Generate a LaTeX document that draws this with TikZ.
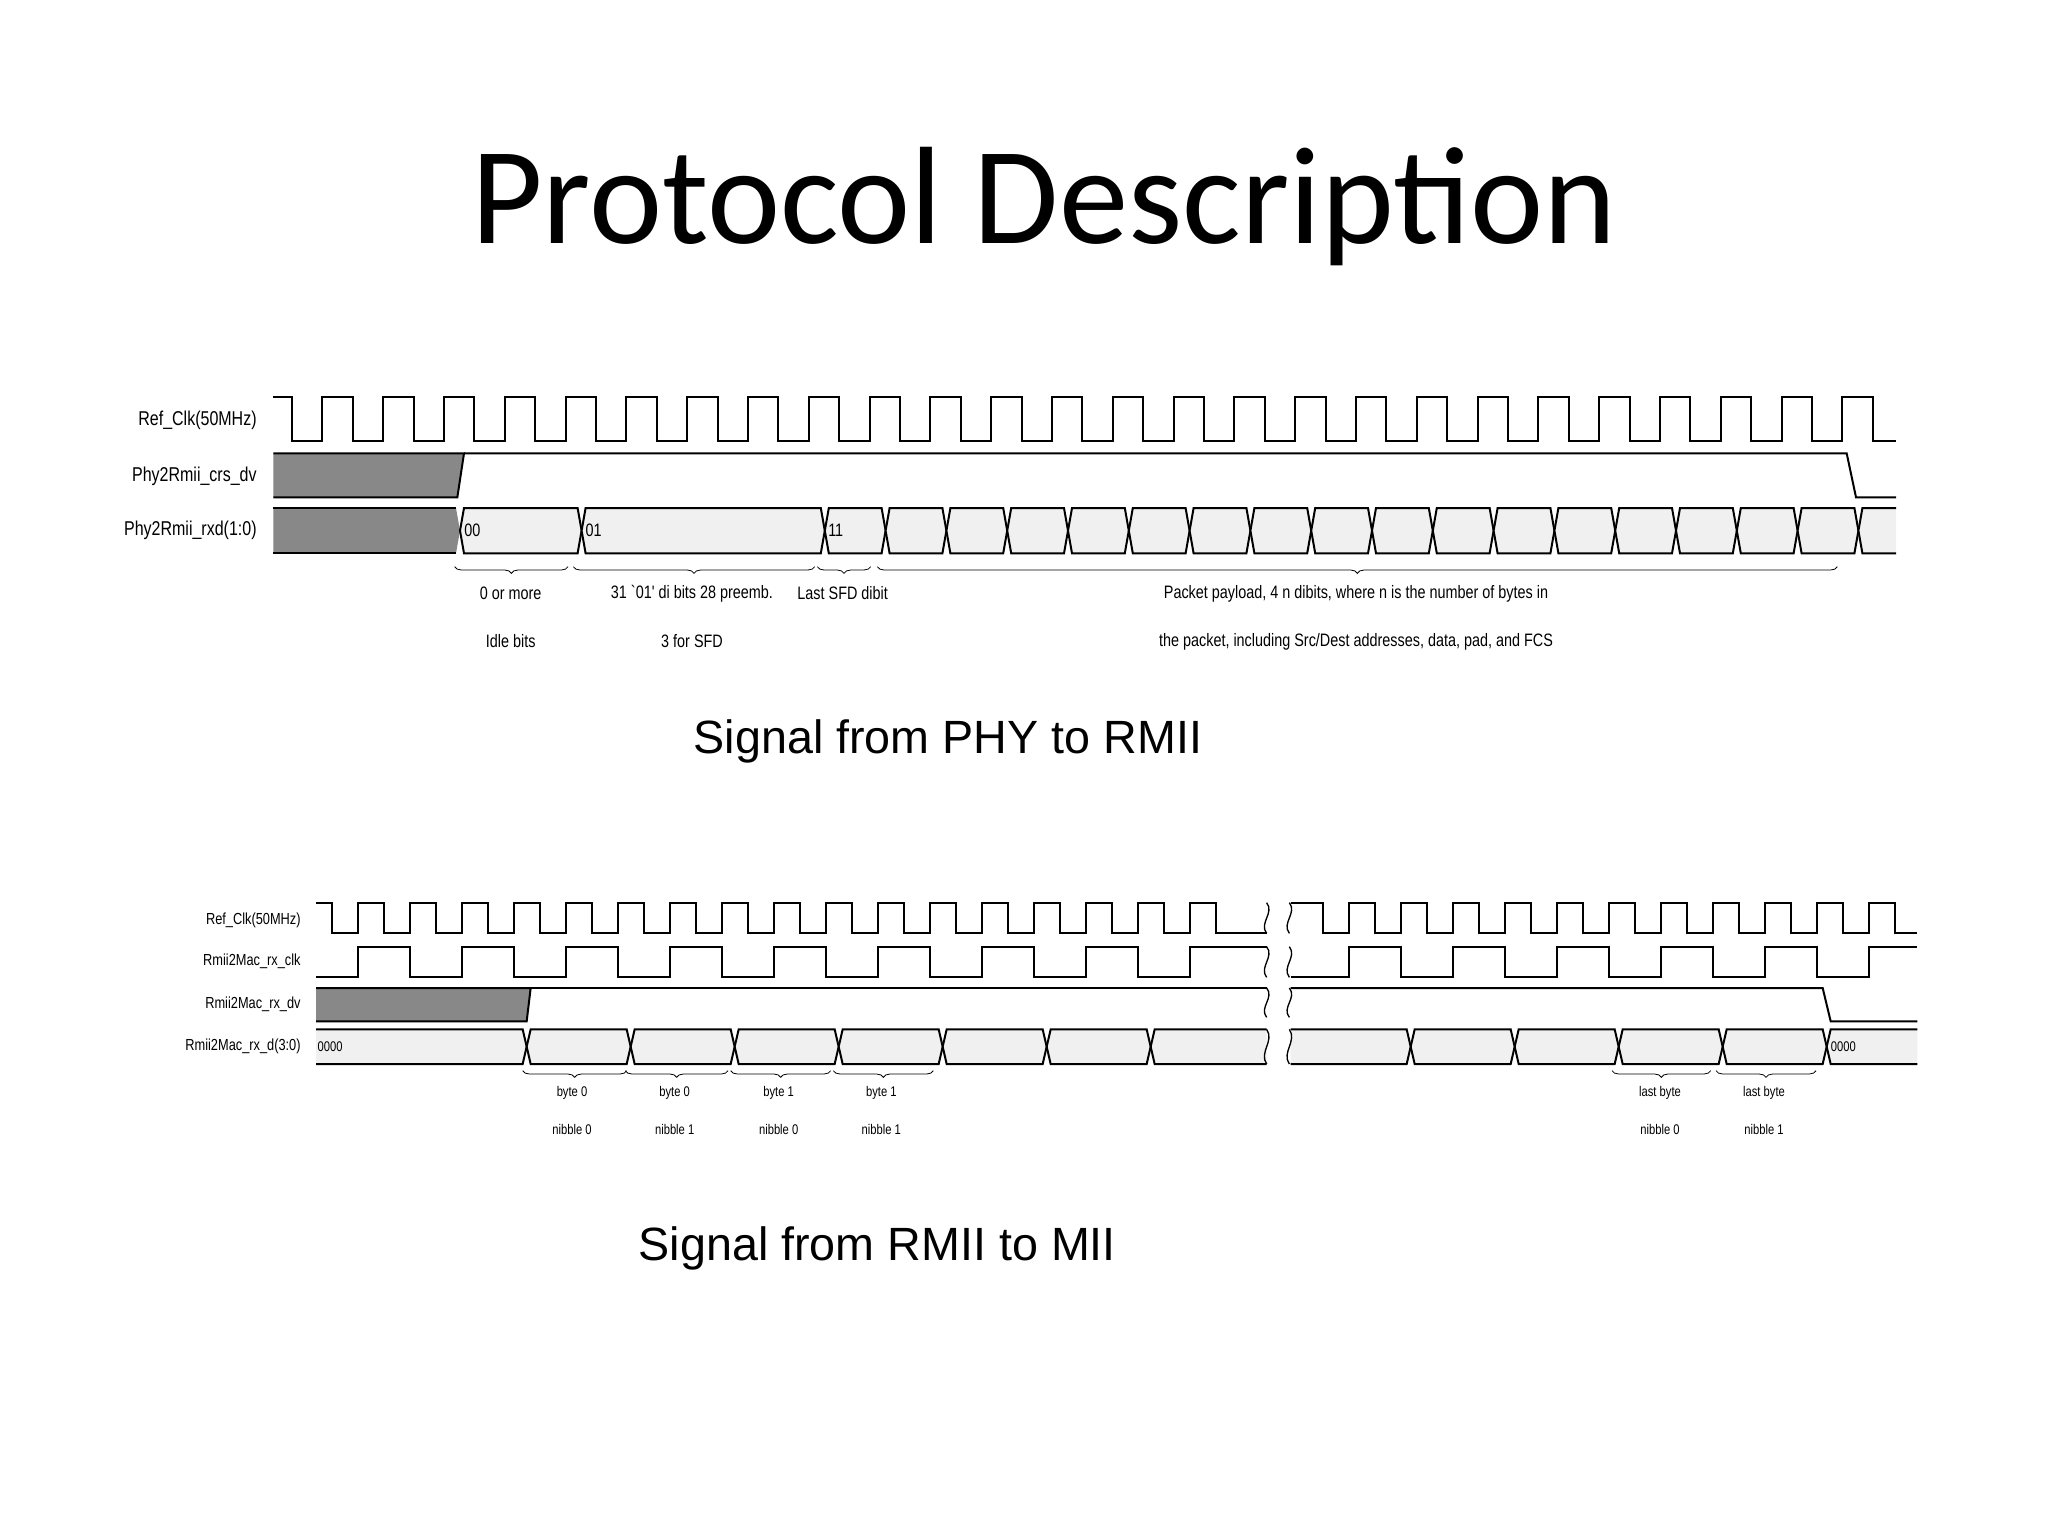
\documentclass[tikz,border=0pt]{standalone}
\usepackage{fontspec}
\setmainfont{Liberation Sans}
\newfontfamily\titlefont{Carlito}
\newfontfamily\narrow[FakeStretch=0.8]{Liberation Sans}
\usetikzlibrary{decorations.pathreplacing}
\definecolor{inact}{HTML}{888888}
\definecolor{busfill}{HTML}{F0F0F0}
\newcommand\busslot[4]{\filldraw[bus] ({#1+3},{#3}) -- ({#2-3},{#3}) -- ({#2},{(#3+#4)/2}) -- ({#2-3},{#4}) -- ({#1+3},{#4}) -- ({#1},{(#3+#4)/2}) -- cycle;}
\newcommand\wavy[3]{\draw[wav] ({#1},{#2}) .. controls ({#1+6},{#2+(#3-#2)/3}) and ({#1-6},{#2+2*(#3-#2)/3}) .. ({#1},{#3});}
\begin{document}
\begin{tikzpicture}[x=1pt,y=-1pt,
  sig/.style={line width=1.5pt,line join=miter},
  bus/.style={fill=busfill,draw=black,line width=1.5pt,line join=miter},
  wav/.style={line width=1pt},
  brc/.style={decorate,decoration={brace,mirror,amplitude=5pt},line width=0.6pt},
  lblA/.style={anchor=east,font=\narrow\fontsize{15}{17}\selectfont},
  lblB/.style={anchor=east,font=\narrow\fontsize{12}{14}\selectfont},
  txtA/.style={font=\narrow\fontsize{13.5}{15}\selectfont},
  txtB/.style={font=\narrow\fontsize{10.5}{12}\selectfont},
  sub/.style={font=\fontsize{35}{40}\selectfont}]
\useasboundingbox[fill=white] (0,0) rectangle (1536,1152);

\node[font=\titlefont\fontsize{104}{120}\selectfont] (title) at (783,155) {Protocol Description};

% ---------- top diagram ----------
\node[lblA] (l1) at (196,315) {Ref\_Clk(50MHz)};
\node[lblA] (l2) at (196,357) {Phy2Rmii\_crs\_dv};
\node[lblA] (l3) at (196,398) {Phy2Rmii\_rxd(1:0)};

\draw[sig] (205,298) -- (219,298) \foreach \k in {0,...,25}{ -- ++(0,33) -- ++(22.8,0) -- ++(0,-33) -- ++(22.8,0)} -- ++(0,33) -- (1422,331);

\fill[inact] (205,340) -- (348,340) -- (343,373) -- (205,373) -- cycle;
\draw[sig] (205,340) -- (348,340) -- (343,373) -- (205,373);
\draw[sig] (348,340) -- (1385,340) -- (1392,373) -- (1422,373);

\fill[inact] (205,381) -- (342,381) -- (345,398) -- (342,415) -- (205,415) -- cycle;
\draw[sig] (205,381) -- (342,381) (342,415) -- (205,415);
\busslot{345}{436.2}{381}{415}
\busslot{436.2}{618.6}{381}{415}
\foreach \k in {6,...,22}{\busslot{345+45.6*\k}{345+45.6*(\k+1)}{381}{415}}
\fill[busfill] (1396.8,381) -- (1422,381) -- (1422,415) -- (1396.8,415) -- (1393.8,398) -- cycle;
\draw[sig] (1422,381) -- (1396.8,381) -- (1393.8,398) -- (1396.8,415) -- (1422,415);

\node[txtA,anchor=west,inner sep=1pt] (d00) at (347,398) {00};
\node[txtA,anchor=west,inner sep=1pt] (d01) at (438,398) {01};
\node[txtA,anchor=west,inner sep=1pt] (d11) at (620,398) {11};

\draw[brc] (341,425) -- (426,425);
\draw[brc] (430,425) -- (611,425);
\draw[brc] (613,425) -- (653,425);
\draw[brc] (658,425) -- (1378,425);
\node[txtA] (b1a) at (383,445) {0 or more};
\node[txtA] (b1b) at (383,481) {Idle bits};
\node[txtA] (b2a) at (519,445) {31 `01' di bits 28 preemb.};
\node[txtA] (b2b) at (519,481) {3 for SFD};
\node[txtA] (b3a) at (632,445) {Last SFD dibit};
\node[txtA] (b4a) at (1017,445) {Packet payload, 4 n dibits, where n is the number of bytes in};
\node[txtA] (b4b) at (1017,481) {the packet, including Src/Dest addresses, data, pad, and FCS};

\node[sub] (s1) at (711,556) {Signal from PHY to RMII};

% ---------- bottom diagram ----------
\node[lblB] (m1) at (229,690) {Ref\_Clk(50MHz)};
\node[lblB] (m2) at (229,721) {Rmii2Mac\_rx\_clk};
\node[lblB] (m3) at (229,753) {Rmii2Mac\_rx\_dv};
\node[lblB] (m4) at (229,785) {Rmii2Mac\_rx\_d(3:0)};

% Ref clk
\draw[sig] (237,677) -- (249,677) \foreach \k in {0,...,16}{ -- ++(0,23) -- ++(19.5,0) -- ++(0,-23) -- ++(19.5,0)} -- ++(0,23) -- (950,700);
\draw[sig] (968,677) -- (992,677) \foreach \k in {0,...,10}{ -- ++(0,23) -- ++(19.5,0) -- ++(0,-23) -- ++(19.5,0)} -- ++(0,23) -- (1438,700);
% rx clk
\draw[sig] (237,733) -- (268.5,733) \foreach \k in {0,...,7}{ -- ++(0,-23) -- ++(39,0) -- ++(0,23) -- ++(39,0)} -- ++(0,-23) -- (950,710);
\draw[sig] (968,733) -- (1011.5,733) \foreach \k in {0,...,4}{ -- ++(0,-23) -- ++(39,0) -- ++(0,23) -- ++(39,0)} -- ++(0,-23) -- (1438,710);
% rx dv
\fill[inact] (237,741) -- (398,741) -- (395,766) -- (237,766) -- cycle;
\draw[sig] (237,741) -- (398,741) -- (395,766) -- (237,766);
\draw[sig] (398,741) -- (950,741);
\draw[sig] (968,741) -- (1367,741) -- (1373,766) -- (1438,766);
% rx d
\fill[busfill] (237,772) -- (392,772) -- (395,785) -- (392,798) -- (237,798) -- cycle;
\draw[sig] (237,772) -- (392,772) -- (395,785) -- (392,798) -- (237,798);
\foreach \j in {0,...,5}{\busslot{395+78*\j}{395+78*(\j+1)}{772}{798}}
\fill[busfill] (866,772) -- (950,772) -- (950,798) -- (866,798) -- (863,785) -- cycle;
\draw[sig] (950,772) -- (866,772) -- (863,785) -- (866,798) -- (950,798);
\fill[busfill] (968,772) -- (1055,772) -- (1058,785) -- (1055,798) -- (968,798) -- cycle;
\draw[sig] (968,772) -- (1055,772) -- (1058,785) -- (1055,798) -- (968,798);
\foreach \j in {0,...,3}{\busslot{1058+78*\j}{1058+78*(\j+1)}{772}{798}}
\fill[busfill] (1373,772) -- (1438,772) -- (1438,798) -- (1373,798) -- (1370,785) -- cycle;
\draw[sig] (1438,772) -- (1373,772) -- (1370,785) -- (1373,798) -- (1438,798);
% break
\foreach \x in {950,967}{
  \wavy{\x}{677}{700}
  \wavy{\x}{710}{733}
  \wavy{\x}{741}{763}
  \wavy{\x}{772}{798}
}
\node[txtB,anchor=west,inner sep=1pt] (z0) at (237,785) {0000};
\node[txtB,anchor=west,inner sep=1pt] (z1) at (1372,785) {0000};

\draw[brc] (392,803) -- (470,803);
\draw[brc] (469,803) -- (546,803);
\draw[brc] (548,803) -- (623,803);
\draw[brc] (625,803) -- (700,803);
\draw[brc] (1209,803) -- (1283,803);
\draw[brc] (1287,803) -- (1362,803);
\node[txtB] (c1a) at (429,820) {byte 0};
\node[txtB] (c1b) at (429,847) {nibble 0};
\node[txtB] (c2a) at (506,820) {byte 0};
\node[txtB] (c2b) at (506,847) {nibble 1};
\node[txtB] (c3a) at (584,820) {byte 1};
\node[txtB] (c3b) at (584,847) {nibble 0};
\node[txtB] (c4a) at (661,820) {byte 1};
\node[txtB] (c4b) at (661,847) {nibble 1};
\node[txtB] (c5a) at (1245,820) {last byte};
\node[txtB] (c5b) at (1245,847) {nibble 0};
\node[txtB] (c6a) at (1323,820) {last byte};
\node[txtB] (c6b) at (1323,847) {nibble 1};

\node[sub] (s2) at (658,936) {Signal from RMII to MII};
\end{tikzpicture}
\end{document}
